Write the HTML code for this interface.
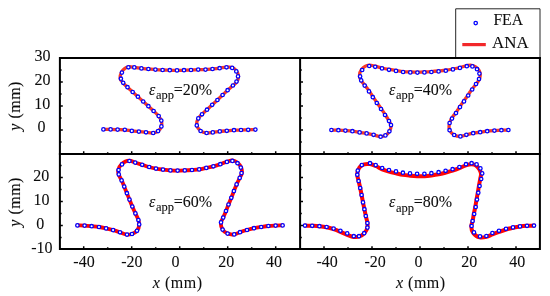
<!DOCTYPE html>
<html><head><meta charset="utf-8"><title>Serpentine FEA vs ANA</title>
<style>html,body{margin:0;padding:0;background:#fff}svg{display:block}text{font-family:"Liberation Serif",serif;fill:#0c0c0c;stroke:#0c0c0c;stroke-width:0.08px}</style></head><body>
<svg width="550" height="296" viewBox="0 0 550 296">
<rect width="550" height="296" fill="#fff"/>
<path d="M103.40 129.40C105.80 129.40 108.20 129.37 110.60 129.40C112.93 129.43 115.27 129.53 117.60 129.60C120.00 129.67 122.41 129.58 124.80 129.80C127.15 130.02 129.46 130.60 131.80 130.90C134.16 131.20 136.53 131.37 138.90 131.60C141.27 131.83 143.63 132.07 146.00 132.30C148.41 132.54 150.81 133.42 153.20 133.00C154.95 132.69 156.69 132.18 158.10 131.10C159.66 129.91 160.82 128.27 161.40 126.40C161.98 124.51 161.86 122.50 161.30 120.60C160.81 118.92 159.73 117.51 158.70 116.10C157.27 114.16 155.34 112.67 153.60 111.00C151.90 109.37 150.14 107.79 148.40 106.20C146.67 104.62 144.93 103.07 143.20 101.50C141.43 99.90 139.67 98.30 137.90 96.70C136.17 95.13 134.43 93.57 132.70 92.00C130.95 90.40 129.19 88.82 127.47 87.19C125.93 85.73 124.24 84.41 122.90 82.76C121.95 81.57 120.82 80.47 120.38 79.01C119.74 76.84 120.40 74.56 121.42 72.53C122.84 69.71 125.36 67.56 128.45 66.88C130.31 66.47 132.23 67.07 134.13 67.27C136.57 67.53 138.97 68.11 141.40 68.40C143.73 68.68 146.07 68.80 148.40 69.00C150.73 69.20 153.06 69.43 155.40 69.60C157.80 69.77 160.20 69.90 162.60 70.00C165.00 70.10 167.40 70.13 169.80 70.20C172.20 70.27 174.60 70.40 177.00 70.40C179.33 70.40 181.67 70.27 184.00 70.20C186.33 70.13 188.67 70.10 191.00 70.00C193.40 69.90 195.80 69.67 198.20 69.60C200.63 69.53 203.07 69.71 205.50 69.60C207.84 69.49 210.17 69.19 212.50 68.95C214.87 68.71 217.24 68.45 219.60 68.15C221.96 67.85 224.29 67.24 226.67 67.16C228.61 67.10 230.63 66.73 232.44 67.46C234.22 68.18 235.64 69.55 236.72 71.14C237.77 72.70 238.50 74.48 238.53 76.37C238.56 78.30 237.82 80.14 236.79 81.78C235.85 83.25 234.33 84.24 233.05 85.43C231.29 87.08 229.38 88.57 227.60 90.20C225.90 91.76 224.27 93.40 222.60 95.00C220.87 96.67 219.15 98.35 217.40 100.00C215.68 101.62 213.93 103.19 212.20 104.80C210.46 106.42 208.74 108.08 207.00 109.70C205.34 111.24 203.59 112.68 202.00 114.30C200.71 115.62 199.20 116.78 198.30 118.40C197.10 120.55 196.30 122.99 196.80 125.40C197.27 127.68 198.72 129.61 200.60 131.00C202.32 132.28 204.47 132.76 206.60 133.00C208.67 133.23 210.73 132.64 212.80 132.40C215.14 132.12 217.46 131.67 219.80 131.40C222.13 131.13 224.47 131.00 226.80 130.80C229.20 130.60 231.60 130.33 234.00 130.20C236.33 130.07 238.67 130.07 241.00 130.00C243.40 129.93 245.80 129.87 248.20 129.80C250.60 129.73 253.00 129.67 255.40 129.60" fill="none" stroke="#f83a26" stroke-width="3.3" stroke-linecap="round" stroke-linejoin="round"/>
<g fill="#fff" stroke="#0000ff" stroke-width="1.3">
<circle cx="103.4" cy="129.4" r="1.7"/>
<circle cx="110.6" cy="129.4" r="1.7"/>
<circle cx="117.6" cy="129.6" r="1.7"/>
<circle cx="124.8" cy="129.8" r="1.7"/>
<circle cx="131.8" cy="130.9" r="1.7"/>
<circle cx="138.9" cy="131.6" r="1.7"/>
<circle cx="146.0" cy="132.3" r="1.7"/>
<circle cx="153.2" cy="133.0" r="1.7"/>
<circle cx="158.1" cy="131.1" r="1.7"/>
<circle cx="161.4" cy="126.4" r="1.7"/>
<circle cx="161.3" cy="120.6" r="1.7"/>
<circle cx="158.7" cy="116.1" r="1.7"/>
<circle cx="153.6" cy="111.0" r="1.7"/>
<circle cx="148.4" cy="106.2" r="1.7"/>
<circle cx="143.2" cy="101.5" r="1.7"/>
<circle cx="137.9" cy="96.7" r="1.7"/>
<circle cx="132.7" cy="92.0" r="1.7"/>
<circle cx="127.5" cy="87.2" r="1.7"/>
<circle cx="123.2" cy="82.8" r="1.7"/>
<circle cx="120.9" cy="78.7" r="1.7"/>
<circle cx="121.9" cy="72.6" r="1.7"/>
<circle cx="128.4" cy="67.3" r="1.7"/>
<circle cx="134.3" cy="67.4" r="1.7"/>
<circle cx="141.4" cy="68.4" r="1.7"/>
<circle cx="148.4" cy="69.0" r="1.7"/>
<circle cx="155.4" cy="69.6" r="1.7"/>
<circle cx="162.6" cy="70.0" r="1.7"/>
<circle cx="169.8" cy="70.2" r="1.7"/>
<circle cx="177.0" cy="70.4" r="1.7"/>
<circle cx="184.0" cy="70.2" r="1.7"/>
<circle cx="191.0" cy="70.0" r="1.7"/>
<circle cx="198.2" cy="69.6" r="1.7"/>
<circle cx="205.5" cy="69.6" r="1.7"/>
<circle cx="212.5" cy="69.0" r="1.7"/>
<circle cx="219.6" cy="68.2" r="1.7"/>
<circle cx="226.5" cy="67.3" r="1.7"/>
<circle cx="232.2" cy="67.9" r="1.7"/>
<circle cx="236.3" cy="71.4" r="1.7"/>
<circle cx="238.0" cy="76.4" r="1.7"/>
<circle cx="236.5" cy="81.6" r="1.7"/>
<circle cx="232.9" cy="85.5" r="1.7"/>
<circle cx="227.6" cy="90.2" r="1.7"/>
<circle cx="222.6" cy="95.0" r="1.7"/>
<circle cx="217.4" cy="100.0" r="1.7"/>
<circle cx="212.2" cy="104.8" r="1.7"/>
<circle cx="207.0" cy="109.7" r="1.7"/>
<circle cx="202.0" cy="114.3" r="1.7"/>
<circle cx="198.3" cy="118.4" r="1.7"/>
<circle cx="196.8" cy="125.4" r="1.7"/>
<circle cx="200.6" cy="131.0" r="1.7"/>
<circle cx="206.6" cy="133.0" r="1.7"/>
<circle cx="212.8" cy="132.4" r="1.7"/>
<circle cx="219.8" cy="131.4" r="1.7"/>
<circle cx="226.8" cy="130.8" r="1.7"/>
<circle cx="234.0" cy="130.2" r="1.7"/>
<circle cx="241.0" cy="130.0" r="1.7"/>
<circle cx="248.2" cy="129.8" r="1.7"/>
<circle cx="255.4" cy="129.6" r="1.7"/>
</g>
<path d="M331.40 130.00C333.73 130.07 336.07 130.10 338.40 130.20C340.74 130.30 343.07 130.43 345.40 130.60C347.74 130.77 350.08 130.91 352.40 131.20C354.81 131.50 357.20 132.03 359.60 132.40C361.93 132.76 364.28 133.00 366.60 133.40C368.95 133.80 371.28 134.26 373.60 134.80C375.97 135.36 378.17 136.82 380.60 136.70C382.28 136.62 383.94 136.22 385.40 135.40C387.09 134.45 388.42 132.98 389.40 131.30C390.51 129.40 391.36 127.27 391.00 125.10C390.75 123.59 389.71 122.35 389.00 121.00C387.91 118.94 386.69 116.97 385.45 115.00C384.17 112.96 382.81 110.99 381.45 109.00C380.07 106.98 378.64 105.00 377.25 103.00C375.91 101.07 374.56 99.15 373.25 97.20C371.96 95.28 370.77 93.30 369.45 91.40C368.05 89.38 366.57 87.41 365.07 85.46C363.71 83.70 361.90 82.26 360.90 80.27C360.34 79.17 359.82 78.04 359.62 76.82C359.20 74.15 360.05 71.46 361.67 69.30C363.49 66.85 366.27 65.31 369.31 65.07C371.25 64.91 373.11 65.78 375.01 66.21C377.36 66.74 379.65 67.47 382.00 68.00C384.32 68.53 386.66 68.98 389.00 69.40C391.33 69.81 393.67 70.14 396.00 70.50C398.37 70.87 400.72 71.35 403.10 71.60C405.49 71.85 407.90 71.90 410.30 72.00C412.67 72.10 415.03 72.20 417.40 72.20C419.73 72.20 422.07 72.10 424.40 72.00C426.74 71.90 429.07 71.76 431.40 71.60C433.80 71.43 436.20 71.22 438.60 71.00C441.00 70.77 443.41 70.58 445.80 70.25C448.18 69.92 450.54 69.46 452.90 69.00C455.24 68.55 457.59 68.08 459.91 67.52C462.28 66.94 464.54 65.88 466.96 65.57C468.84 65.33 470.76 65.00 472.60 65.49C474.48 65.99 476.18 67.01 477.51 68.43C478.70 69.69 479.60 71.21 480.00 72.90C480.51 74.97 480.14 77.13 479.41 79.13C478.74 80.94 477.33 82.36 476.20 83.92C474.80 85.85 473.15 87.58 471.75 89.50C470.33 91.44 469.11 93.52 467.75 95.50C466.38 97.49 464.94 99.43 463.55 101.40C462.21 103.30 460.86 105.18 459.55 107.10C458.19 109.08 456.93 111.13 455.55 113.10C454.25 114.96 452.65 116.61 451.55 118.60C450.77 120.01 450.00 121.44 449.60 123.00C448.99 125.39 448.64 127.93 449.60 130.20C450.48 132.30 452.21 133.89 454.20 135.00C456.08 136.05 458.24 136.45 460.40 136.40C462.48 136.35 464.39 135.31 466.40 134.80C468.66 134.23 470.91 133.63 473.20 133.20C475.52 132.76 477.87 132.53 480.20 132.20C482.53 131.87 484.86 131.47 487.20 131.20C489.59 130.93 492.00 130.77 494.40 130.60C496.73 130.44 499.06 130.30 501.40 130.20C503.73 130.10 506.07 130.07 508.40 130.00" fill="none" stroke="#f83a26" stroke-width="3.3" stroke-linecap="round" stroke-linejoin="round"/>
<g fill="#fff" stroke="#0000ff" stroke-width="1.3">
<circle cx="331.4" cy="130.0" r="1.7"/>
<circle cx="338.4" cy="130.2" r="1.7"/>
<circle cx="345.4" cy="130.6" r="1.7"/>
<circle cx="352.4" cy="131.2" r="1.7"/>
<circle cx="359.6" cy="132.4" r="1.7"/>
<circle cx="366.6" cy="133.4" r="1.7"/>
<circle cx="373.6" cy="134.8" r="1.7"/>
<circle cx="380.6" cy="136.7" r="1.7"/>
<circle cx="385.4" cy="135.4" r="1.7"/>
<circle cx="389.4" cy="131.3" r="1.7"/>
<circle cx="391.0" cy="125.1" r="1.7"/>
<circle cx="389.0" cy="121.0" r="1.7"/>
<circle cx="385.0" cy="115.0" r="1.7"/>
<circle cx="381.0" cy="109.0" r="1.7"/>
<circle cx="376.8" cy="103.0" r="1.7"/>
<circle cx="372.8" cy="97.2" r="1.7"/>
<circle cx="369.0" cy="91.4" r="1.7"/>
<circle cx="364.7" cy="85.6" r="1.7"/>
<circle cx="361.2" cy="80.4" r="1.7"/>
<circle cx="360.1" cy="76.4" r="1.7"/>
<circle cx="362.2" cy="70.0" r="1.7"/>
<circle cx="369.2" cy="66.0" r="1.7"/>
<circle cx="375.2" cy="66.8" r="1.7"/>
<circle cx="382.0" cy="68.4" r="1.7"/>
<circle cx="389.0" cy="69.8" r="1.7"/>
<circle cx="396.0" cy="70.9" r="1.7"/>
<circle cx="403.1" cy="72.0" r="1.7"/>
<circle cx="410.3" cy="72.4" r="1.7"/>
<circle cx="417.4" cy="72.6" r="1.7"/>
<circle cx="424.4" cy="72.4" r="1.7"/>
<circle cx="431.4" cy="72.0" r="1.7"/>
<circle cx="438.6" cy="71.4" r="1.7"/>
<circle cx="445.8" cy="70.7" r="1.7"/>
<circle cx="452.9" cy="69.4" r="1.7"/>
<circle cx="459.9" cy="67.9" r="1.7"/>
<circle cx="466.8" cy="66.2" r="1.7"/>
<circle cx="472.4" cy="66.4" r="1.7"/>
<circle cx="477.0" cy="69.2" r="1.7"/>
<circle cx="479.4" cy="73.6" r="1.7"/>
<circle cx="479.0" cy="79.0" r="1.7"/>
<circle cx="476.0" cy="84.0" r="1.7"/>
<circle cx="472.2" cy="89.5" r="1.7"/>
<circle cx="468.2" cy="95.5" r="1.7"/>
<circle cx="464.0" cy="101.4" r="1.7"/>
<circle cx="460.0" cy="107.1" r="1.7"/>
<circle cx="456.0" cy="113.1" r="1.7"/>
<circle cx="452.0" cy="118.6" r="1.7"/>
<circle cx="449.6" cy="123.0" r="1.7"/>
<circle cx="449.6" cy="130.2" r="1.7"/>
<circle cx="454.2" cy="135.0" r="1.7"/>
<circle cx="460.4" cy="136.4" r="1.7"/>
<circle cx="466.4" cy="134.8" r="1.7"/>
<circle cx="473.2" cy="133.2" r="1.7"/>
<circle cx="480.2" cy="132.2" r="1.7"/>
<circle cx="487.2" cy="131.2" r="1.7"/>
<circle cx="494.4" cy="130.6" r="1.7"/>
<circle cx="501.4" cy="130.2" r="1.7"/>
<circle cx="508.4" cy="130.0" r="1.7"/>
</g>
<path d="M77.40 225.40C79.80 225.47 82.20 225.46 84.60 225.60C86.94 225.73 89.27 225.97 91.60 226.20C94.07 226.44 96.55 226.62 99.00 227.00C101.39 227.36 103.74 227.88 106.10 228.40C108.45 228.92 110.79 229.45 113.10 230.10C115.42 230.75 117.70 231.56 120.00 232.30C122.35 233.06 124.54 234.46 127.00 234.60C128.69 234.70 130.39 234.54 132.00 234.00C133.91 233.35 135.72 232.36 137.00 230.80C138.47 229.01 139.15 226.72 139.20 224.40C139.23 222.90 138.81 221.44 138.40 220.00C137.75 217.67 136.40 215.61 135.40 213.40C134.36 211.10 133.29 208.82 132.30 206.50C131.32 204.22 130.43 201.90 129.50 199.60C128.63 197.47 127.77 195.33 126.90 193.20C126.00 191.00 125.09 188.80 124.20 186.60C123.35 184.51 122.61 182.37 121.68 180.32C120.74 178.26 119.15 176.47 118.59 174.27C118.25 172.92 117.96 171.54 118.14 170.15C118.44 167.81 119.95 165.85 121.65 164.21C123.81 162.11 126.52 160.50 129.53 160.60C131.47 160.66 133.17 161.89 135.01 162.51C137.40 163.31 139.80 164.04 142.20 164.80C144.53 165.54 146.84 166.35 149.20 167.00C151.45 167.61 153.71 168.17 156.00 168.60C158.32 169.04 160.66 169.31 163.00 169.60C165.46 169.91 167.92 170.23 170.40 170.40C172.80 170.56 175.20 170.60 177.60 170.60C180.00 170.60 182.40 170.50 184.80 170.40C187.20 170.30 189.60 170.17 192.00 170.00C194.40 169.83 196.82 169.75 199.20 169.40C201.59 169.05 203.94 168.42 206.30 167.90C208.67 167.38 211.05 166.92 213.40 166.30C215.72 165.68 218.02 164.97 220.30 164.20C222.58 163.44 224.76 162.39 227.06 161.71C228.85 161.18 230.60 160.25 232.46 160.41C234.45 160.60 236.23 161.62 237.77 162.89C239.26 164.11 240.44 165.66 241.16 167.45C241.89 169.28 242.19 171.26 241.85 173.20C241.57 174.85 240.51 176.24 239.81 177.75C238.78 179.99 237.59 182.15 236.60 184.40C235.63 186.60 234.79 188.86 233.90 191.10C233.02 193.33 232.20 195.58 231.30 197.80C230.40 200.05 229.40 202.25 228.50 204.50C227.64 206.65 226.87 208.85 226.00 211.00C225.10 213.22 224.17 215.42 223.20 217.60C222.48 219.22 221.28 220.66 221.00 222.40C220.59 224.91 221.20 227.47 222.60 229.60C223.80 231.42 225.59 232.74 227.60 233.60C229.68 234.48 231.96 234.69 234.20 234.40C236.26 234.13 238.04 232.88 240.00 232.20C242.31 231.39 244.65 230.67 247.00 230.00C249.32 229.34 251.64 228.70 254.00 228.20C256.38 227.70 258.79 227.37 261.20 227.00C263.60 226.63 265.99 226.23 268.40 226.00C270.79 225.77 273.20 225.70 275.60 225.60C277.93 225.50 280.27 225.47 282.60 225.40" fill="none" stroke="#ff0505" stroke-width="3.8" stroke-linecap="round" stroke-linejoin="round"/>
<g fill="#fff" stroke="#0000ff" stroke-width="1.3">
<circle cx="77.4" cy="225.4" r="1.7"/>
<circle cx="84.6" cy="225.6" r="1.7"/>
<circle cx="91.6" cy="226.2" r="1.7"/>
<circle cx="99.0" cy="227.0" r="1.7"/>
<circle cx="106.1" cy="228.4" r="1.7"/>
<circle cx="113.1" cy="230.1" r="1.7"/>
<circle cx="120.0" cy="232.3" r="1.7"/>
<circle cx="127.0" cy="234.6" r="1.7"/>
<circle cx="132.0" cy="234.0" r="1.7"/>
<circle cx="137.0" cy="230.8" r="1.7"/>
<circle cx="139.2" cy="224.4" r="1.7"/>
<circle cx="138.4" cy="220.0" r="1.7"/>
<circle cx="135.4" cy="213.4" r="1.7"/>
<circle cx="132.3" cy="206.5" r="1.7"/>
<circle cx="129.5" cy="199.6" r="1.7"/>
<circle cx="126.9" cy="193.2" r="1.7"/>
<circle cx="124.2" cy="186.6" r="1.7"/>
<circle cx="121.6" cy="180.4" r="1.7"/>
<circle cx="118.8" cy="174.4" r="1.7"/>
<circle cx="118.6" cy="170.0" r="1.7"/>
<circle cx="122.0" cy="164.4" r="1.7"/>
<circle cx="129.4" cy="161.0" r="1.7"/>
<circle cx="135.2" cy="162.6" r="1.7"/>
<circle cx="142.2" cy="164.8" r="1.7"/>
<circle cx="149.2" cy="167.0" r="1.7"/>
<circle cx="156.0" cy="168.6" r="1.7"/>
<circle cx="163.0" cy="169.6" r="1.7"/>
<circle cx="170.4" cy="170.4" r="1.7"/>
<circle cx="177.6" cy="170.6" r="1.7"/>
<circle cx="184.8" cy="170.4" r="1.7"/>
<circle cx="192.0" cy="170.0" r="1.7"/>
<circle cx="199.2" cy="169.4" r="1.7"/>
<circle cx="206.3" cy="167.9" r="1.7"/>
<circle cx="213.4" cy="166.3" r="1.7"/>
<circle cx="220.3" cy="164.2" r="1.7"/>
<circle cx="226.9" cy="161.9" r="1.7"/>
<circle cx="232.4" cy="160.9" r="1.7"/>
<circle cx="237.5" cy="163.2" r="1.7"/>
<circle cx="240.8" cy="167.6" r="1.7"/>
<circle cx="241.5" cy="173.1" r="1.7"/>
<circle cx="239.7" cy="177.9" r="1.7"/>
<circle cx="236.6" cy="184.4" r="1.7"/>
<circle cx="233.9" cy="191.1" r="1.7"/>
<circle cx="231.3" cy="197.8" r="1.7"/>
<circle cx="228.5" cy="204.5" r="1.7"/>
<circle cx="226.0" cy="211.0" r="1.7"/>
<circle cx="223.2" cy="217.6" r="1.7"/>
<circle cx="221.0" cy="222.4" r="1.7"/>
<circle cx="222.6" cy="229.6" r="1.7"/>
<circle cx="227.6" cy="233.6" r="1.7"/>
<circle cx="234.2" cy="234.4" r="1.7"/>
<circle cx="240.0" cy="232.2" r="1.7"/>
<circle cx="247.0" cy="230.0" r="1.7"/>
<circle cx="254.0" cy="228.2" r="1.7"/>
<circle cx="261.2" cy="227.0" r="1.7"/>
<circle cx="268.4" cy="226.0" r="1.7"/>
<circle cx="275.6" cy="225.6" r="1.7"/>
<circle cx="282.6" cy="225.4" r="1.7"/>
</g>
<path d="M305.00 225.60C307.40 225.67 309.80 225.70 312.20 225.80C314.60 225.90 317.01 225.97 319.40 226.20C321.81 226.43 324.23 226.70 326.60 227.20C328.98 227.70 331.30 228.43 333.60 229.20C335.90 229.97 338.15 230.88 340.40 231.80C342.69 232.74 344.88 233.93 347.20 234.80C349.37 235.62 351.50 236.65 353.80 236.90C355.54 237.09 357.32 237.18 359.00 236.70C361.01 236.12 362.75 234.91 364.20 233.40C365.74 231.80 366.93 229.86 367.40 227.69C367.73 226.15 367.54 224.57 367.40 223.00C367.19 220.61 366.31 218.34 365.80 216.00C365.31 213.74 364.87 211.47 364.40 209.20C363.93 206.93 363.45 204.67 363.00 202.40C362.51 199.94 362.08 197.46 361.60 195.00C361.15 192.66 360.70 190.33 360.20 188.00C359.70 185.66 359.11 183.34 358.60 181.00C358.15 178.93 357.32 176.92 357.30 174.80C357.28 173.38 357.35 171.95 357.80 170.60C358.52 168.44 359.89 166.54 361.80 165.29C364.18 163.73 367.17 163.74 370.00 164.10C372.00 164.35 373.84 165.24 375.70 166.00C377.95 166.92 379.96 168.37 382.20 169.31C384.41 170.22 386.71 170.89 389.00 171.55C391.31 172.22 393.66 172.75 396.00 173.30C398.29 173.84 400.58 174.45 402.90 174.85C405.25 175.24 407.63 175.43 410.00 175.65C412.36 175.87 414.73 176.08 417.10 176.16C419.53 176.24 421.97 176.26 424.40 176.14C426.74 176.01 429.07 175.73 431.40 175.43C433.81 175.12 436.22 174.77 438.60 174.29C440.95 173.83 443.28 173.22 445.60 172.62C447.94 172.02 450.29 171.43 452.60 170.69C454.90 169.96 457.16 169.11 459.40 168.21C461.63 167.31 463.69 165.97 466.00 165.30C467.84 164.77 469.69 164.18 471.60 164.30C473.10 164.40 474.60 164.65 475.90 165.40C477.38 166.25 478.41 167.65 479.30 169.10C480.14 170.48 480.80 171.99 481.00 173.60C481.23 175.42 480.50 177.20 480.20 179.00C479.82 181.34 479.31 183.66 478.90 186.00C478.51 188.23 478.19 190.47 477.80 192.70C477.40 195.00 476.94 197.30 476.53 199.60C476.09 202.06 475.74 204.54 475.27 207.00C474.82 209.34 474.25 211.66 473.80 214.00C473.36 216.33 473.11 218.69 472.60 221.00C472.23 222.68 471.36 224.28 471.30 226.00C471.21 228.49 471.87 230.96 473.30 233.00C474.84 235.19 477.10 236.77 479.70 237.40C481.91 237.94 484.19 237.43 486.40 236.90C488.51 236.39 490.38 235.20 492.40 234.40C494.59 233.53 496.79 232.70 499.00 231.90C501.32 231.06 503.64 230.21 506.00 229.50C508.31 228.81 510.65 228.22 513.00 227.70C515.32 227.19 517.65 226.72 520.00 226.40C522.32 226.09 524.66 225.93 527.00 225.80C529.33 225.67 531.67 225.67 534.00 225.60" fill="none" stroke="#ff0505" stroke-width="4.0" stroke-linecap="round" stroke-linejoin="round"/>
<g fill="#fff" stroke="#0000ff" stroke-width="1.3">
<circle cx="305.0" cy="225.6" r="1.7"/>
<circle cx="312.2" cy="225.8" r="1.7"/>
<circle cx="319.4" cy="226.2" r="1.7"/>
<circle cx="326.6" cy="227.0" r="1.7"/>
<circle cx="333.6" cy="228.6" r="1.7"/>
<circle cx="340.4" cy="230.8" r="1.7"/>
<circle cx="347.2" cy="233.4" r="1.7"/>
<circle cx="353.8" cy="236.2" r="1.7"/>
<circle cx="359.0" cy="236.2" r="1.7"/>
<circle cx="364.2" cy="233.2" r="1.7"/>
<circle cx="367.4" cy="227.6" r="1.7"/>
<circle cx="367.4" cy="223.0" r="1.7"/>
<circle cx="365.8" cy="216.0" r="1.7"/>
<circle cx="364.4" cy="209.2" r="1.7"/>
<circle cx="363.0" cy="202.4" r="1.7"/>
<circle cx="361.6" cy="195.0" r="1.7"/>
<circle cx="360.2" cy="188.0" r="1.7"/>
<circle cx="358.6" cy="181.0" r="1.7"/>
<circle cx="357.3" cy="174.8" r="1.7"/>
<circle cx="357.8" cy="170.6" r="1.7"/>
<circle cx="361.8" cy="165.1" r="1.7"/>
<circle cx="370.0" cy="163.2" r="1.7"/>
<circle cx="375.7" cy="165.1" r="1.7"/>
<circle cx="382.2" cy="168.0" r="1.7"/>
<circle cx="389.0" cy="170.0" r="1.7"/>
<circle cx="396.0" cy="171.4" r="1.7"/>
<circle cx="402.9" cy="172.7" r="1.7"/>
<circle cx="410.0" cy="173.4" r="1.7"/>
<circle cx="417.1" cy="173.8" r="1.7"/>
<circle cx="424.4" cy="173.8" r="1.7"/>
<circle cx="431.4" cy="173.2" r="1.7"/>
<circle cx="438.6" cy="172.2" r="1.7"/>
<circle cx="445.6" cy="170.8" r="1.7"/>
<circle cx="452.6" cy="169.2" r="1.7"/>
<circle cx="459.4" cy="167.0" r="1.7"/>
<circle cx="466.0" cy="164.2" r="1.7"/>
<circle cx="471.6" cy="163.2" r="1.7"/>
<circle cx="476.6" cy="164.4" r="1.7"/>
<circle cx="480.4" cy="168.4" r="1.7"/>
<circle cx="482.2" cy="173.4" r="1.7"/>
<circle cx="481.2" cy="179.0" r="1.7"/>
<circle cx="479.6" cy="186.0" r="1.7"/>
<circle cx="478.3" cy="192.7" r="1.7"/>
<circle cx="477.0" cy="199.6" r="1.7"/>
<circle cx="475.7" cy="207.0" r="1.7"/>
<circle cx="474.2" cy="214.0" r="1.7"/>
<circle cx="472.6" cy="221.0" r="1.7"/>
<circle cx="471.6" cy="226.0" r="1.7"/>
<circle cx="474.0" cy="232.4" r="1.7"/>
<circle cx="480.0" cy="236.4" r="1.7"/>
<circle cx="486.4" cy="236.0" r="1.7"/>
<circle cx="492.4" cy="233.0" r="1.7"/>
<circle cx="499.0" cy="230.8" r="1.7"/>
<circle cx="506.0" cy="228.8" r="1.7"/>
<circle cx="513.0" cy="227.4" r="1.7"/>
<circle cx="520.0" cy="226.4" r="1.7"/>
<circle cx="527.0" cy="225.8" r="1.7"/>
<circle cx="534.0" cy="225.6" r="1.7"/>
</g>
<g stroke="#000" stroke-width="2" fill="none" stroke-linecap="square">
<path d="M59.9 57.9H539.9V249.0H59.9Z"/>
<path d="M59.9 154.0H539.9M300.1 57.9V249.0"/>
</g>
<path d="M83.7 154.0v-2.8M107.7 154.0v-1.7M131.7 154.0v-2.8M155.7 154.0v-1.7M179.7 154.0v-2.8M203.7 154.0v-1.7M227.7 154.0v-2.8M251.7 154.0v-1.7M275.7 154.0v-2.8M83.7 249.0v-2.8M107.7 249.0v-1.7M131.7 249.0v-2.8M155.7 249.0v-1.7M179.7 249.0v-2.8M203.7 249.0v-1.7M227.7 249.0v-2.8M251.7 249.0v-1.7M275.7 249.0v-2.8M324.0 154.0v-2.8M348.0 154.0v-1.7M372.0 154.0v-2.8M396.0 154.0v-1.7M420.0 154.0v-2.8M444.0 154.0v-1.7M468.0 154.0v-2.8M492.0 154.0v-1.7M516.0 154.0v-2.8M324.0 249.0v-2.8M348.0 249.0v-1.7M372.0 249.0v-2.8M396.0 249.0v-1.7M420.0 249.0v-2.8M444.0 249.0v-1.7M468.0 249.0v-2.8M492.0 249.0v-1.7M516.0 249.0v-2.8M59.9 141.9h1.7M59.9 129.9h2.9M59.9 117.9h1.7M59.9 105.9h2.9M59.9 93.9h1.7M59.9 81.9h2.9M59.9 69.9h1.7M59.9 237.4h1.7M59.9 225.4h2.9M59.9 213.4h1.7M59.9 201.4h2.9M59.9 189.4h1.7M59.9 177.4h2.9M59.9 165.4h1.7M300.1 141.9h1.7M300.1 129.9h2.9M300.1 117.9h1.7M300.1 105.9h2.9M300.1 93.9h1.7M300.1 81.9h2.9M300.1 69.9h1.7M300.1 237.4h1.7M300.1 225.4h2.9M300.1 213.4h1.7M300.1 201.4h2.9M300.1 189.4h1.7M300.1 177.4h2.9M300.1 165.4h1.7" stroke="#000" stroke-width="1.5" fill="none"/>
<path d="M455.7 57.9V8.8H540V57.9" fill="#fff" stroke="#262626" stroke-width="1"/>
<path d="M455.0 57.9H540.9" stroke="#000" stroke-width="2"/>
<circle cx="475.7" cy="23.1" r="1.7" fill="#fff" stroke="#0000ff" stroke-width="1.3"/>
<path d="M462.3 44.6H485.8" stroke="#f2282a" stroke-width="3.2"/>
<text x="493.4" y="24.9" font-size="16" textLength="29.6" lengthAdjust="spacingAndGlyphs">FEA</text>
<text x="492.0" y="47.6" font-size="16" textLength="36.6" lengthAdjust="spacingAndGlyphs">ANA</text>
<g font-size="16" text-anchor="middle">
<text x="84.0" y="267.4">-40</text>
<text x="131.8" y="267.4">-20</text>
<text x="175.4" y="267.4">0</text>
<text x="226.3" y="267.4">20</text>
<text x="274.0" y="267.4">40</text>
<text x="327.2" y="267.4">-40</text>
<text x="375.2" y="267.4">-20</text>
<text x="418.5" y="267.4">0</text>
<text x="469.3" y="267.4">20</text>
<text x="517.2" y="267.4">40</text>
<text x="42.4" y="60.6">30</text>
<text x="42.4" y="84.5">20</text>
<text x="42.2" y="108.5">10</text>
<text x="41.6" y="132.4">0</text>
<text x="41.2" y="181.0">20</text>
<text x="41.6" y="205.2">10</text>
<text x="40.2" y="229.1">0</text>
<text x="41.9" y="253.3">-10</text>
</g>
<g font-size="16" text-anchor="middle" letter-spacing="0.5">
<text x="177.7" y="287.8"><tspan font-style="italic">x</tspan> (mm)</text>
<text x="420.8" y="287.8"><tspan font-style="italic">x</tspan> (mm)</text>
<text transform="translate(19.5 105.9) rotate(-90)"><tspan font-style="italic">y</tspan> (mm)</text>
<text transform="translate(19.5 201.9) rotate(-90)"><tspan font-style="italic">y</tspan> (mm)</text>
</g>
<text x="149.0" y="94.6" font-size="16"><tspan font-style="italic">ε</tspan><tspan font-size="12.5" dx="0.6" dy="4.2">app</tspan><tspan dx="-0.3" dy="-4.2">=20%</tspan></text>
<text x="389.0" y="94.6" font-size="16"><tspan font-style="italic">ε</tspan><tspan font-size="12.5" dx="0.6" dy="4.2">app</tspan><tspan dx="-0.3" dy="-4.2">=40%</tspan></text>
<text x="149.0" y="206.9" font-size="16"><tspan font-style="italic">ε</tspan><tspan font-size="12.5" dx="0.6" dy="4.2">app</tspan><tspan dx="-0.3" dy="-4.2">=60%</tspan></text>
<text x="389.0" y="207.4" font-size="16"><tspan font-style="italic">ε</tspan><tspan font-size="12.5" dx="0.6" dy="4.2">app</tspan><tspan dx="-0.3" dy="-4.2">=80%</tspan></text>
</svg></body></html>
